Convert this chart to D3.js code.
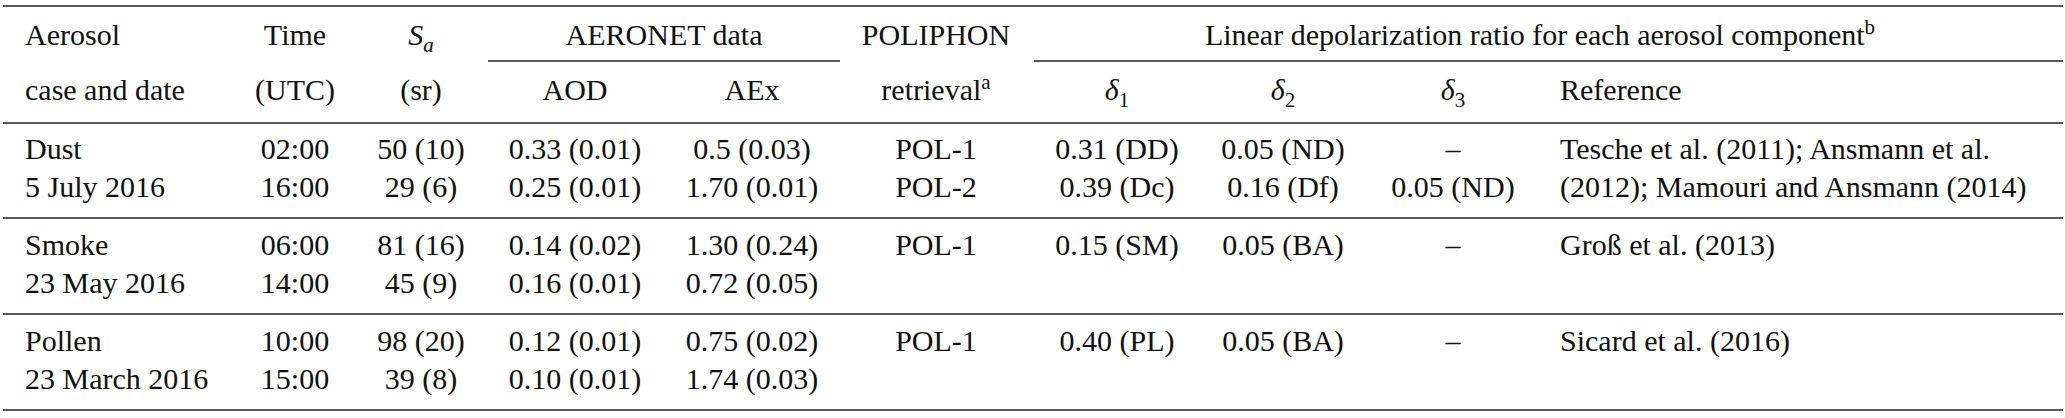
<!DOCTYPE html>
<html>
<head>
<meta charset="utf-8">
<script src="https://cdn.jsdelivr.net/npm/d3@7"></script>
<style>
  body { margin: 0; background: #fff; }
  svg text { font-family: 'Liberation Serif', 'DejaVu Serif', 'Times New Roman', Times, serif; font-size: 30px; fill: #111; }
</style>
</head>
<body>
<svg id="tbl" width="2065" height="418" font-family="Liberation Serif, DejaVu Serif, serif"></svg>
<script>
// table data, one array per column (two lines per aerosol case)
const caseNames = ["Dust", "Smoke", "Pollen"];
const caseDates = ["5 July 2016", "23 May 2016", "23 March 2016"];
const times = [["02:00", "16:00"], ["06:00", "14:00"], ["10:00", "15:00"]];
const lidarRatio = [["50 (10)", "29 (6)"], ["81 (16)", "45 (9)"], ["98 (20)", "39 (8)"]];
const aod = [["0.33 (0.01)", "0.25 (0.01)"], ["0.14 (0.02)", "0.16 (0.01)"], ["0.12 (0.01)", "0.10 (0.01)"]];
const aex = [["0.5 (0.03)", "1.70 (0.01)"], ["1.30 (0.24)", "0.72 (0.05)"], ["0.75 (0.02)", "1.74 (0.03)"]];
const retrieval = [["POL-1", "POL-2"], ["POL-1", ""], ["POL-1", ""]];
const delta1 = [["0.31 (DD)", "0.39 (Dc)"], ["0.15 (SM)", ""], ["0.40 (PL)", ""]];
const delta2 = [["0.05 (ND)", "0.16 (Df)"], ["0.05 (BA)", ""], ["0.05 (BA)", ""]];
const delta3 = [["\u2013", "0.05 (ND)"], ["\u2013", ""], ["\u2013", ""]];
const refs = [["Tesche et al. (2011); Ansmann et al.", "(2012); Mamouri and Ansmann (2014)"],
              ["Gro\u00df et al. (2013)", ""], ["Sicard et al. (2016)", ""]];

const svg = d3.select("#tbl");

// column positions
const colKeys = ["case", "time", "sa", "aod", "aex", "pol", "d1", "d2", "d3", "ref"];
const colX = d3.scaleOrdinal().domain(colKeys)
  .range([25, 295, 421, 575, 752, 936, 1117, 1283, 1453, 1560]);
const anchor = k => (k === "case" || k === "ref") ? "start" : "middle";

// row baselines: two lines per case block
const rowY = d3.scaleLinear().domain([0, 1]).range([159, 255]);
const lineStep = 38;

// rules
const rules = [
  {x1: 3, x2: 2063, y: 6}, {x1: 3, x2: 2063, y: 123},
  {x1: 3, x2: 2063, y: 218}, {x1: 3, x2: 2063, y: 314}, {x1: 3, x2: 2063, y: 410},
  {x1: 488, x2: 840, y: 61}, {x1: 1034, x2: 2063, y: 61}
];
svg.selectAll("line.rule").data(rules).join("line")
  .attr("x1", d => d.x1).attr("x2", d => d.x2)
  .attr("y1", d => d.y).attr("y2", d => d.y)
  .attr("stroke", "#222").attr("stroke-width", 1.6);

// header
function hText(x, y, a) {
  return svg.append("text").attr("x", x).attr("y", y).attr("text-anchor", a);
}
hText(colX("case"), 45, "start").text("Aerosol");
hText(colX("case"), 100, "start").text("case and date");
hText(colX("time"), 45, "middle").text("Time");
hText(colX("time"), 100, "middle").text("(UTC)");
let t = hText(colX("sa"), 45, "middle");
t.append("tspan").attr("font-style", "italic").text("S");
t.append("tspan").attr("font-style", "italic").attr("font-size", 21).attr("dy", 7).text("a");
hText(colX("sa"), 100, "middle").text("(sr)");
hText(664, 45, "middle").text("AERONET data");
hText(colX("aod"), 100, "middle").text("AOD");
hText(colX("aex"), 100, "middle").text("AEx");
hText(colX("pol"), 45, "middle").text("POLIPHON");
t = hText(colX("pol"), 100, "middle");
t.append("tspan").text("retrieval");
t.append("tspan").attr("font-size", 21).attr("dy", -11).text("a");
t = hText(1540, 45, "middle");
t.append("tspan").text("Linear depolarization ratio for each aerosol component");
t.append("tspan").attr("font-size", 21).attr("dy", -11).text("b");
["d1", "d2", "d3"].forEach((k, i) => {
  const s = hText(colX(k), 100, "middle");
  s.append("tspan").attr("font-style", "italic").text("\u03b4");
  s.append("tspan").attr("font-size", 21).attr("dy", 7).text(String(i + 1));
});
hText(colX("ref"), 100, "start").text("Reference");

// body
const columns = {
  case: caseNames.map((n, i) => [n, caseDates[i]]),
  time: times, sa: lidarRatio, aod: aod, aex: aex, pol: retrieval,
  d1: delta1, d2: delta2, d3: delta3, ref: refs
};
const cells = [];
colKeys.forEach(k => columns[k].forEach((pair, i) => pair.forEach((v, j) => {
  if (v) cells.push({k, i, j, v});
})));
svg.selectAll("text.cell").data(cells).join("text")
  .attr("class", "cell")
  .attr("x", d => colX(d.k))
  .attr("y", d => rowY(d.i) + d.j * lineStep)
  .attr("text-anchor", d => anchor(d.k))
  .text(d => d.v);
</script>
</body>
</html>
